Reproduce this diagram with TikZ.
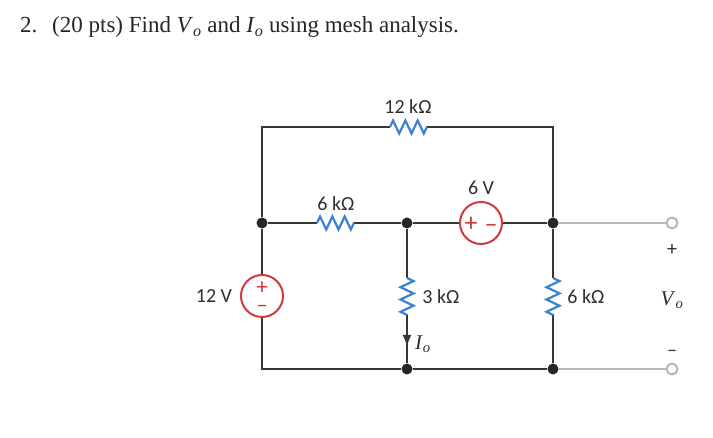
\documentclass[tikz,border=0pt]{standalone}
\usepackage{fontspec}
\setmainfont{Liberation Serif}
\newfontfamily\labelfont{Carlito}
\usetikzlibrary{arrows.meta,decorations.pathmorphing}
\definecolor{wirec}{HTML}{3B3630}
\definecolor{leadc}{HTML}{B8B8AC}
\definecolor{srcc}{HTML}{D1393F}
\definecolor{resc}{HTML}{3A82D2}
\definecolor{textc}{HTML}{2E2E2E}
\newcommand{\vsym}{\textit{V}\textsubscript{\textit{o}}}
\newcommand{\isym}{\textit{I}\textsubscript{\textit{o}}}
\tikzset{
  wire/.style={draw=wirec,line width=2.4pt},
  lead/.style={draw=leadc,line width=2.4pt},
  res/.style={draw=resc,line width=2.2pt,decorate,decoration={zigzag,segment length=12.3pt,amplitude=6.5pt}},
  dot/.style={circle,fill=black!85,inner sep=0pt,minimum size=11pt},
  term/.style={circle,draw=leadc,fill=white,line width=2pt,inner sep=0pt,minimum size=11pt},
  src/.style={circle,draw=srcc,fill=white,line width=2pt,inner sep=0pt,minimum size=42pt},
  pt/.style={inner sep=0pt,minimum size=0pt},
  lab/.style={text=textc,inner sep=0pt,font=\labelfont\fontsize{20}{20}\selectfont},
  sym/.style={text=textc,inner sep=0pt,font=\fontsize{21}{21}\selectfont},
  sgn/.style={text=srcc,inner sep=0pt,font=\labelfont\fontsize{26}{26}\selectfont},
  ttl/.style={text=black!85,inner sep=0pt,anchor=base west,font=\fontsize{23}{25}\selectfont}
}
\begin{document}
\begin{tikzpicture}[x=1pt,y=1pt]
   \path[use as bounding box] (0,0) rectangle(713,438);
   % question
   \node[ttl] (num) at (20,405) {2.};
   \node[ttl] (ques) at (52,405) {(20 pts) Find \vsym{} and \isym{} using mesh analysis.};
   % corners and junctions
   \node[pt] (tl) at (262,311) {};
   \node[pt] (tr) at (553,311) {};
   \node[pt] (bl) at (262,69) {};
   \node[dot] (ja) at (262,215) {};
   \node[dot] (jb) at (407,215) {};
   \node[dot] (jc) at (553,215) {};
   \node[dot] (jd) at (407,69) {};
   \node[dot] (je) at (553,69) {};
   \node[term] (tp) at (672,215) {};
   \node[term] (tm) at (672,69) {};
   % resistor ends
   \node[pt] (ra1) at (390,311) {};
   \node[pt] (ra2) at (427,311) {};
   \node[pt] (rb1) at (317,215) {};
   \node[pt] (rb2) at (354,215) {};
   \node[pt] (rc1) at (407,160) {};
   \node[pt] (rc2) at (407,123) {};
   \node[pt] (rd1) at (553,160) {};
   \node[pt] (rd2) at (553,123) {};
   \node[pt] (io) at (407,91) {};
   % sources
   \node[src] (va) at (262,142) {};
   \node[src] (vb) at (481,215) {};
   % wires
   \draw[wire] (ja) -- (va);
   \draw[wire,line join=miter] (va) -- (bl.center) -- (jd);
   \draw[wire] (jd) -- (je);
   \draw[wire] (ja) -- (tl.center) -- (ra1.center);
   \draw[wire] (ra2.center) -- (tr.center) -- (jc);
   \draw[wire] (ja) -- (rb1.center);
   \draw[wire] (rb2.center) -- (jb);
   \draw[wire] (jb) -- (vb);
   \draw[wire] (vb) -- (jc);
   \draw[wire] (jb) -- (rc1.center);
   \draw[wire] (rc2.center) -- (jd);
   \draw[wire] (jc) -- (rd1.center);
   \draw[wire] (rd2.center) -- (je);
   \draw[wire,-{Latex[length=12pt,width=9pt]}] (rc2.center) -- (io.center);
   \draw[lead] (jc) -- (tp);
   \draw[lead] (je) -- (tm);
   % resistors
   \draw[res] (ra1.center) -- (ra2.center);
   \draw[res] (rb1.center) -- (rb2.center);
   \draw[res] (rc1.center) -- (rc2.center);
   \draw[res] (rd1.center) -- (rd2.center);
   % source signs
   \node[sgn,align=center,font=\labelfont\fontsize{23}{18}\selectfont] (vasign) at (262,141) {+\\\textendash};
   \node[sgn] (vbp) at (471,214) {+};
   \node[sgn] (vbm) at (491,210) {\textendash};
   % labels
   \node[lab] (la) at (408,331) {12 kΩ};
   \node[lab] (lb) at (336,234) {6 kΩ};
   \node[lab] (lc) at (441,141) {3 kΩ};
   \node[lab] (ld) at (586,141) {6 kΩ};
   \node[lab] (le) at (481,250) {6 V};
   \node[lab] (lf) at (214,142) {12 V};
   \node[sym] (lg) at (423,94) {\isym};
   \node[sym] (lh) at (672,138) {\vsym};
   \node[lab] (li) at (672,188) {+};
   \node[lab] (lj) at (672,85) {\textendash};
\end{tikzpicture}
\end{document}
